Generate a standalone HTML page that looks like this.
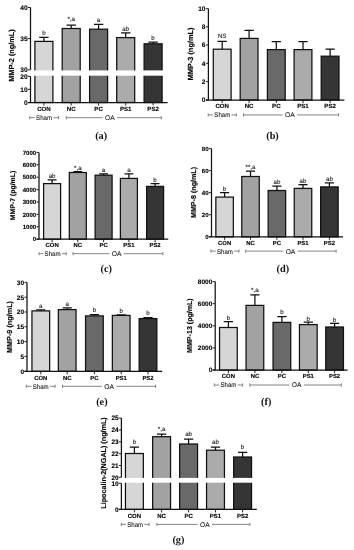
<!DOCTYPE html>
<html><head><meta charset="utf-8"><style>
html,body{margin:0;padding:0;background:#fff;width:354px;height:550px;overflow:hidden}
svg{display:block;filter:blur(0.3px)}
text{font-family:"Liberation Sans",Arial,sans-serif;text-rendering:geometricPrecision}
.tk{font-weight:bold;fill:#000;stroke:#000;stroke-width:0.12px}
.cat{font-weight:bold;fill:#000;stroke:#000;stroke-width:0.12px}
.sig{font-size:6.2px;fill:#222;stroke:#222;stroke-width:0.1px}
.br{font-size:6.7px;fill:#222;stroke:#222;stroke-width:0.1px}
.yl{font-weight:bold;fill:#000;stroke:#000;stroke-width:0.15px}
.cap{font-family:"Liberation Serif",serif;font-size:10.3px;fill:#111;font-weight:bold}
</style></head><body>
<svg width="354" height="550" viewBox="0 0 354 550">
<g class="p">
<rect x="34.9" y="41.4" width="18" height="61.1" fill="#d6d6d6" stroke="#111" stroke-width="1.25"/>
<path d="M43.9 41.4V37.4M39.22 37.4H48.58" stroke="#111" stroke-width="1.25" fill="none"/>
<text x="43.9" y="35.2" class="sig" text-anchor="middle">b</text>
<path d="M43.9 102.5v3" stroke="#111" stroke-width="0.9"/>
<text x="43.9" y="110.8" class="cat" style="font-size:6.1px" text-anchor="middle">CON</text>
<rect x="62.2" y="28.5" width="18" height="74" fill="#a2a2a2" stroke="#111" stroke-width="1.25"/>
<path d="M71.2 28.5V25.2M66.52 25.2H75.88" stroke="#111" stroke-width="1.25" fill="none"/>
<text x="71.2" y="21" class="sig" text-anchor="middle">*,a</text>
<path d="M71.2 102.5v3" stroke="#111" stroke-width="0.9"/>
<text x="71.2" y="110.8" class="cat" style="font-size:6.1px" text-anchor="middle">NC</text>
<rect x="89.6" y="29.2" width="18" height="73.3" fill="#696969" stroke="#111" stroke-width="1.25"/>
<path d="M98.6 29.2V24.4M93.92 24.4H103.28" stroke="#111" stroke-width="1.25" fill="none"/>
<text x="98.6" y="21.8" class="sig" text-anchor="middle">a</text>
<path d="M98.6 102.5v3" stroke="#111" stroke-width="0.9"/>
<text x="98.6" y="110.8" class="cat" style="font-size:6.1px" text-anchor="middle">PC</text>
<rect x="116.7" y="37.6" width="18" height="64.9" fill="#ababab" stroke="#111" stroke-width="1.25"/>
<path d="M125.7 37.6V32.9M121.02 32.9H130.38" stroke="#111" stroke-width="1.25" fill="none"/>
<text x="125.7" y="30.7" class="sig" text-anchor="middle">ab</text>
<path d="M125.7 102.5v3" stroke="#111" stroke-width="0.9"/>
<text x="125.7" y="110.8" class="cat" style="font-size:6.1px" text-anchor="middle">PS1</text>
<rect x="144.1" y="43.8" width="18" height="58.7" fill="#353535" stroke="#111" stroke-width="1.25"/>
<path d="M153.1 43.8V42M148.42 42H157.78" stroke="#111" stroke-width="1.25" fill="none"/>
<text x="153.1" y="39.6" class="sig" text-anchor="middle">b</text>
<path d="M153.1 102.5v3" stroke="#111" stroke-width="0.9"/>
<text x="153.1" y="110.8" class="cat" style="font-size:6.1px" text-anchor="middle">PS2</text>
<rect x="31.3" y="70.4" width="137.1" height="5.3" fill="#fff"/>
<path d="M30.5 7.5V69.8M30.5 76.3V102.5" stroke="#111" stroke-width="1.25" fill="none"/>
<path d="M28 102.5H167.6" stroke="#111" stroke-width="1.25"/>
<path d="M27.9 7.5H30.5" stroke="#111" stroke-width="0.9"/>
<text x="27.6" y="9.88" class="tk" style="font-size:6.6px" text-anchor="end">40</text>
<path d="M27.9 38.6H30.5" stroke="#111" stroke-width="0.9"/>
<text x="27.6" y="40.98" class="tk" style="font-size:6.6px" text-anchor="end">35</text>
<path d="M27.9 69.8H30.5" stroke="#111" stroke-width="0.9"/>
<text x="27.6" y="72.18" class="tk" style="font-size:6.6px" text-anchor="end">30</text>
<path d="M27.9 76.3H30.5" stroke="#111" stroke-width="0.9"/>
<text x="27.6" y="78.68" class="tk" style="font-size:6.6px" text-anchor="end">20</text>
<path d="M27.9 89.3H30.5" stroke="#111" stroke-width="0.9"/>
<text x="27.6" y="91.68" class="tk" style="font-size:6.6px" text-anchor="end">10</text>
<path d="M27.9 102.5H30.5" stroke="#111" stroke-width="0.9"/>
<text x="27.6" y="104.88" class="tk" style="font-size:6.6px" text-anchor="end">0</text>
<path d="M29.7 116.1v3.2M58.5 116.1v3.2M66.3 116.1v3.2M161.3 116.1v3.2" stroke="#666" stroke-width="0.8"/>
<path d="M29.7 117.7H34.9M53.3 117.7H58.5M66.3 117.7H102.6M117 117.7H161.3" stroke="#666" stroke-width="0.8"/>
<text x="44.1" y="120.1" class="br" text-anchor="middle" textLength="16" lengthAdjust="spacingAndGlyphs">Sham</text>
<text x="109.8" y="120.1" class="br" text-anchor="middle">OA</text>
<text x="101.2" y="139.3" class="cap" text-anchor="middle">(<tspan font-weight="bold">a</tspan>)</text>
<text transform="translate(13.94 55.5) rotate(-90)" class="yl" style="font-size:7.33px" text-anchor="middle">MMP-2 (ng/mL)</text>
</g>
<g class="p">
<rect x="213.3" y="49.2" width="17.8" height="50.8" fill="#d6d6d6" stroke="#111" stroke-width="1.25"/>
<path d="M222.2 49.2V41.4M217.57 41.4H226.83" stroke="#111" stroke-width="1.25" fill="none"/>
<text x="222.2" y="37.8" class="sig" text-anchor="middle">NS</text>
<path d="M222.2 100v3" stroke="#111" stroke-width="0.9"/>
<text x="222.2" y="107.8" class="cat" style="font-size:6.1px" text-anchor="middle">CON</text>
<rect x="240.2" y="38.4" width="17.8" height="61.6" fill="#a2a2a2" stroke="#111" stroke-width="1.25"/>
<path d="M249.1 38.4V30.3M244.47 30.3H253.73" stroke="#111" stroke-width="1.25" fill="none"/>
<path d="M249.1 100v3" stroke="#111" stroke-width="0.9"/>
<text x="249.1" y="107.8" class="cat" style="font-size:6.1px" text-anchor="middle">NC</text>
<rect x="267.4" y="49.6" width="17.8" height="50.4" fill="#696969" stroke="#111" stroke-width="1.25"/>
<path d="M276.3 49.6V41.6M271.67 41.6H280.93" stroke="#111" stroke-width="1.25" fill="none"/>
<path d="M276.3 100v3" stroke="#111" stroke-width="0.9"/>
<text x="276.3" y="107.8" class="cat" style="font-size:6.1px" text-anchor="middle">PC</text>
<rect x="294.1" y="49.6" width="17.8" height="50.4" fill="#ababab" stroke="#111" stroke-width="1.25"/>
<path d="M303 49.6V41.6M298.37 41.6H307.63" stroke="#111" stroke-width="1.25" fill="none"/>
<path d="M303 100v3" stroke="#111" stroke-width="0.9"/>
<text x="303" y="107.8" class="cat" style="font-size:6.1px" text-anchor="middle">PS1</text>
<rect x="321.2" y="56.2" width="17.8" height="43.8" fill="#353535" stroke="#111" stroke-width="1.25"/>
<path d="M330.1 56.2V49.1M325.47 49.1H334.73" stroke="#111" stroke-width="1.25" fill="none"/>
<path d="M330.1 100v3" stroke="#111" stroke-width="0.9"/>
<text x="330.1" y="107.8" class="cat" style="font-size:6.1px" text-anchor="middle">PS2</text>
<path d="M208.4 8.7V100" stroke="#111" stroke-width="1.25" fill="none"/>
<path d="M205.9 100H344.4" stroke="#111" stroke-width="1.25"/>
<path d="M205.8 8.7H208.4" stroke="#111" stroke-width="0.9"/>
<text x="205.5" y="11.08" class="tk" style="font-size:6.6px" text-anchor="end">10</text>
<path d="M205.8 26.8H208.4" stroke="#111" stroke-width="0.9"/>
<text x="205.5" y="29.18" class="tk" style="font-size:6.6px" text-anchor="end">8</text>
<path d="M205.8 45H208.4" stroke="#111" stroke-width="0.9"/>
<text x="205.5" y="47.38" class="tk" style="font-size:6.6px" text-anchor="end">6</text>
<path d="M205.8 63.3H208.4" stroke="#111" stroke-width="0.9"/>
<text x="205.5" y="65.68" class="tk" style="font-size:6.6px" text-anchor="end">4</text>
<path d="M205.8 81.7H208.4" stroke="#111" stroke-width="0.9"/>
<text x="205.5" y="84.08" class="tk" style="font-size:6.6px" text-anchor="end">2</text>
<path d="M205.8 100H208.4" stroke="#111" stroke-width="0.9"/>
<text x="205.5" y="102.38" class="tk" style="font-size:6.6px" text-anchor="end">0</text>
<path d="M208.2 113.3v3.2M236.4 113.3v3.2M243.5 113.3v3.2M338.6 113.3v3.2" stroke="#666" stroke-width="0.8"/>
<path d="M208.2 114.9H213.1M231.5 114.9H236.4M243.5 114.9H282.7M297.1 114.9H338.6" stroke="#666" stroke-width="0.8"/>
<text x="222.3" y="117.3" class="br" text-anchor="middle" textLength="16" lengthAdjust="spacingAndGlyphs">Sham</text>
<text x="289.9" y="117.3" class="br" text-anchor="middle">OA</text>
<text x="272.5" y="139.3" class="cap" text-anchor="middle">(<tspan font-weight="bold">b</tspan>)</text>
<text transform="translate(192.87 54) rotate(-90)" class="yl" style="font-size:7.42px" text-anchor="middle">MMP-3 (ng/mL)</text>
</g>
<g class="p">
<rect x="43.6" y="183.6" width="17" height="55.6" fill="#d6d6d6" stroke="#111" stroke-width="1.25"/>
<path d="M52.1 183.6V179.8M47.68 179.8H56.52" stroke="#111" stroke-width="1.25" fill="none"/>
<text x="52.1" y="178.4" class="sig" text-anchor="middle">ab</text>
<path d="M52.1 239.2v3" stroke="#111" stroke-width="0.9"/>
<text x="52.1" y="247.1" class="cat" style="font-size:5.9px" text-anchor="middle">CON</text>
<rect x="69.3" y="172.5" width="17" height="66.7" fill="#a2a2a2" stroke="#111" stroke-width="1.25"/>
<path d="M77.8 172.5V171.7M73.38 171.7H82.22" stroke="#111" stroke-width="1.25" fill="none"/>
<text x="77.8" y="169.5" class="sig" text-anchor="middle">*,a</text>
<path d="M77.8 239.2v3" stroke="#111" stroke-width="0.9"/>
<text x="77.8" y="247.1" class="cat" style="font-size:5.9px" text-anchor="middle">NC</text>
<rect x="95.1" y="175.2" width="17" height="64" fill="#696969" stroke="#111" stroke-width="1.25"/>
<path d="M103.6 175.2V173.8M99.18 173.8H108.02" stroke="#111" stroke-width="1.25" fill="none"/>
<text x="103.6" y="171.9" class="sig" text-anchor="middle">a</text>
<path d="M103.6 239.2v3" stroke="#111" stroke-width="0.9"/>
<text x="103.6" y="247.1" class="cat" style="font-size:5.9px" text-anchor="middle">PC</text>
<rect x="120.4" y="178.4" width="17" height="60.8" fill="#ababab" stroke="#111" stroke-width="1.25"/>
<path d="M128.9 178.4V173.8M124.48 173.8H133.32" stroke="#111" stroke-width="1.25" fill="none"/>
<text x="128.9" y="171.9" class="sig" text-anchor="middle">a</text>
<path d="M128.9 239.2v3" stroke="#111" stroke-width="0.9"/>
<text x="128.9" y="247.1" class="cat" style="font-size:5.9px" text-anchor="middle">PS1</text>
<rect x="146.6" y="186.4" width="17" height="52.8" fill="#353535" stroke="#111" stroke-width="1.25"/>
<path d="M155.1 186.4V183.5M150.68 183.5H159.52" stroke="#111" stroke-width="1.25" fill="none"/>
<text x="155.1" y="181.9" class="sig" text-anchor="middle">b</text>
<path d="M155.1 239.2v3" stroke="#111" stroke-width="0.9"/>
<text x="155.1" y="247.1" class="cat" style="font-size:5.9px" text-anchor="middle">PS2</text>
<path d="M39 152.4V239.2" stroke="#111" stroke-width="1.25" fill="none"/>
<path d="M36.5 239.2H168.2" stroke="#111" stroke-width="1.25"/>
<path d="M36.4 152.4H39" stroke="#111" stroke-width="0.9"/>
<text x="36.1" y="154.56" class="tk" style="font-size:6.0px" text-anchor="end">7000</text>
<path d="M36.4 164.8H39" stroke="#111" stroke-width="0.9"/>
<text x="36.1" y="166.96" class="tk" style="font-size:6.0px" text-anchor="end">6000</text>
<path d="M36.4 177.2H39" stroke="#111" stroke-width="0.9"/>
<text x="36.1" y="179.36" class="tk" style="font-size:6.0px" text-anchor="end">5000</text>
<path d="M36.4 189.6H39" stroke="#111" stroke-width="0.9"/>
<text x="36.1" y="191.76" class="tk" style="font-size:6.0px" text-anchor="end">4000</text>
<path d="M36.4 202H39" stroke="#111" stroke-width="0.9"/>
<text x="36.1" y="204.16" class="tk" style="font-size:6.0px" text-anchor="end">3000</text>
<path d="M36.4 214.4H39" stroke="#111" stroke-width="0.9"/>
<text x="36.1" y="216.56" class="tk" style="font-size:6.0px" text-anchor="end">2000</text>
<path d="M36.4 226.8H39" stroke="#111" stroke-width="0.9"/>
<text x="36.1" y="228.96" class="tk" style="font-size:6.0px" text-anchor="end">1000</text>
<path d="M36.4 239.2H39" stroke="#111" stroke-width="0.9"/>
<text x="36.1" y="241.36" class="tk" style="font-size:6.0px" text-anchor="end">0</text>
<path d="M39 252.1v3.2M66.2 252.1v3.2M73 252.1v3.2M162.8 252.1v3.2" stroke="#666" stroke-width="0.8"/>
<path d="M39 253.7H43.4M61.8 253.7H66.2M73 253.7H109.5M123.9 253.7H162.8" stroke="#666" stroke-width="0.8"/>
<text x="52.6" y="256.1" class="br" text-anchor="middle" textLength="16" lengthAdjust="spacingAndGlyphs">Sham</text>
<text x="116.7" y="256.1" class="br" text-anchor="middle">OA</text>
<text x="106.3" y="272" class="cap" text-anchor="middle">(<tspan font-weight="bold">c</tspan>)</text>
<text transform="translate(14.78 195.5) rotate(-90)" class="yl" style="font-size:6.9px" text-anchor="middle">MMP-7 (pg/mL)</text>
</g>
<g class="p">
<rect x="215.85" y="197.1" width="17.5" height="39.7" fill="#d6d6d6" stroke="#111" stroke-width="1.25"/>
<path d="M224.6 197.1V192.7M220.05 192.7H229.15" stroke="#111" stroke-width="1.25" fill="none"/>
<text x="224.6" y="191.1" class="sig" text-anchor="middle">b</text>
<path d="M224.6 236.8v3" stroke="#111" stroke-width="0.9"/>
<text x="224.6" y="244.6" class="cat" style="font-size:5.9px" text-anchor="middle">CON</text>
<rect x="241.75" y="176.5" width="17.5" height="60.3" fill="#a2a2a2" stroke="#111" stroke-width="1.25"/>
<path d="M250.5 176.5V171.2M245.95 171.2H255.05" stroke="#111" stroke-width="1.25" fill="none"/>
<text x="250.5" y="168.8" class="sig" text-anchor="middle">**,a</text>
<path d="M250.5 236.8v3" stroke="#111" stroke-width="0.9"/>
<text x="250.5" y="244.6" class="cat" style="font-size:5.9px" text-anchor="middle">NC</text>
<rect x="268.15" y="190.5" width="17.5" height="46.3" fill="#696969" stroke="#111" stroke-width="1.25"/>
<path d="M276.9 190.5V186M272.35 186H281.45" stroke="#111" stroke-width="1.25" fill="none"/>
<text x="276.9" y="184.1" class="sig" text-anchor="middle">ab</text>
<path d="M276.9 236.8v3" stroke="#111" stroke-width="0.9"/>
<text x="276.9" y="244.6" class="cat" style="font-size:5.9px" text-anchor="middle">PC</text>
<rect x="294.25" y="188.4" width="17.5" height="48.4" fill="#ababab" stroke="#111" stroke-width="1.25"/>
<path d="M303 188.4V184.5M298.45 184.5H307.55" stroke="#111" stroke-width="1.25" fill="none"/>
<text x="303" y="182.6" class="sig" text-anchor="middle">ab</text>
<path d="M303 236.8v3" stroke="#111" stroke-width="0.9"/>
<text x="303" y="244.6" class="cat" style="font-size:5.9px" text-anchor="middle">PS1</text>
<rect x="320.65" y="186.9" width="17.5" height="49.9" fill="#353535" stroke="#111" stroke-width="1.25"/>
<path d="M329.4 186.9V182.9M324.85 182.9H333.95" stroke="#111" stroke-width="1.25" fill="none"/>
<text x="329.4" y="181" class="sig" text-anchor="middle">ab</text>
<path d="M329.4 236.8v3" stroke="#111" stroke-width="0.9"/>
<text x="329.4" y="244.6" class="cat" style="font-size:5.9px" text-anchor="middle">PS2</text>
<path d="M211.5 148.6V236.8" stroke="#111" stroke-width="1.25" fill="none"/>
<path d="M209 236.8H343" stroke="#111" stroke-width="1.25"/>
<path d="M208.9 148.6H211.5" stroke="#111" stroke-width="0.9"/>
<text x="208.6" y="150.8" class="tk" style="font-size:6.1px" text-anchor="end">80</text>
<path d="M208.9 170.6H211.5" stroke="#111" stroke-width="0.9"/>
<text x="208.6" y="172.8" class="tk" style="font-size:6.1px" text-anchor="end">60</text>
<path d="M208.9 192.6H211.5" stroke="#111" stroke-width="0.9"/>
<text x="208.6" y="194.8" class="tk" style="font-size:6.1px" text-anchor="end">40</text>
<path d="M208.9 214.7H211.5" stroke="#111" stroke-width="0.9"/>
<text x="208.6" y="216.9" class="tk" style="font-size:6.1px" text-anchor="end">20</text>
<path d="M208.9 236.7H211.5" stroke="#111" stroke-width="0.9"/>
<text x="208.6" y="238.9" class="tk" style="font-size:6.1px" text-anchor="end">0</text>
<path d="M210.9 249.5v3.2M239 249.5v3.2M245.7 249.5v3.2M336.1 249.5v3.2" stroke="#666" stroke-width="0.8"/>
<path d="M210.9 251.1H215.75M234.15 251.1H239M245.7 251.1H283.3M297.7 251.1H336.1" stroke="#666" stroke-width="0.8"/>
<text x="224.95" y="253.5" class="br" text-anchor="middle" textLength="16" lengthAdjust="spacingAndGlyphs">Sham</text>
<text x="290.5" y="253.5" class="br" text-anchor="middle">OA</text>
<text x="282.9" y="272" class="cap" text-anchor="middle">(<tspan font-weight="bold">d</tspan>)</text>
<text transform="translate(195.77 192.5) rotate(-90)" class="yl" style="font-size:7.13px" text-anchor="middle">MMP-8 (ng/mL)</text>
</g>
<g class="p">
<rect x="31.95" y="310.9" width="17.7" height="60.4" fill="#d6d6d6" stroke="#111" stroke-width="1.25"/>
<path d="M40.8 310.9V309.9M36.2 309.9H45.4" stroke="#111" stroke-width="1.25" fill="none"/>
<text x="40.8" y="307.5" class="sig" text-anchor="middle">a</text>
<path d="M40.8 371.3v3" stroke="#111" stroke-width="0.9"/>
<text x="40.8" y="380.2" class="cat" style="font-size:5.9px" text-anchor="middle">CON</text>
<rect x="58.35" y="309.6" width="17.7" height="61.7" fill="#a2a2a2" stroke="#111" stroke-width="1.25"/>
<path d="M67.2 309.6V307.9M62.6 307.9H71.8" stroke="#111" stroke-width="1.25" fill="none"/>
<text x="67.2" y="305.5" class="sig" text-anchor="middle">a</text>
<path d="M67.2 371.3v3" stroke="#111" stroke-width="0.9"/>
<text x="67.2" y="380.2" class="cat" style="font-size:5.9px" text-anchor="middle">NC</text>
<rect x="85.55" y="315.9" width="17.7" height="55.4" fill="#696969" stroke="#111" stroke-width="1.25"/>
<path d="M94.4 315.9V314.5M89.8 314.5H99" stroke="#111" stroke-width="1.25" fill="none"/>
<text x="94.4" y="312.1" class="sig" text-anchor="middle">b</text>
<path d="M94.4 371.3v3" stroke="#111" stroke-width="0.9"/>
<text x="94.4" y="380.2" class="cat" style="font-size:5.9px" text-anchor="middle">PC</text>
<rect x="112.35" y="315.4" width="17.7" height="55.9" fill="#ababab" stroke="#111" stroke-width="1.25"/>
<path d="M121.2 315.4V314.9M116.6 314.9H125.8" stroke="#111" stroke-width="1.25" fill="none"/>
<text x="121.2" y="312.5" class="sig" text-anchor="middle">b</text>
<path d="M121.2 371.3v3" stroke="#111" stroke-width="0.9"/>
<text x="121.2" y="380.2" class="cat" style="font-size:5.9px" text-anchor="middle">PS1</text>
<rect x="139.15" y="318.6" width="17.7" height="52.7" fill="#353535" stroke="#111" stroke-width="1.25"/>
<path d="M148 318.6V317.5M143.4 317.5H152.6" stroke="#111" stroke-width="1.25" fill="none"/>
<text x="148" y="315.1" class="sig" text-anchor="middle">b</text>
<path d="M148 371.3v3" stroke="#111" stroke-width="0.9"/>
<text x="148" y="380.2" class="cat" style="font-size:5.9px" text-anchor="middle">PS2</text>
<path d="M27 282.4V371.3" stroke="#111" stroke-width="1.25" fill="none"/>
<path d="M24.5 371.3H162.2" stroke="#111" stroke-width="1.25"/>
<path d="M24.4 282.4H27" stroke="#111" stroke-width="0.9"/>
<text x="24.1" y="284.74" class="tk" style="font-size:6.5px" text-anchor="end">30</text>
<path d="M24.4 297.2H27" stroke="#111" stroke-width="0.9"/>
<text x="24.1" y="299.54" class="tk" style="font-size:6.5px" text-anchor="end">25</text>
<path d="M24.4 312H27" stroke="#111" stroke-width="0.9"/>
<text x="24.1" y="314.34" class="tk" style="font-size:6.5px" text-anchor="end">20</text>
<path d="M24.4 326.8H27" stroke="#111" stroke-width="0.9"/>
<text x="24.1" y="329.14" class="tk" style="font-size:6.5px" text-anchor="end">15</text>
<path d="M24.4 341.6H27" stroke="#111" stroke-width="0.9"/>
<text x="24.1" y="343.94" class="tk" style="font-size:6.5px" text-anchor="end">10</text>
<path d="M24.4 356.4H27" stroke="#111" stroke-width="0.9"/>
<text x="24.1" y="358.74" class="tk" style="font-size:6.5px" text-anchor="end">5</text>
<path d="M24.4 371.2H27" stroke="#111" stroke-width="0.9"/>
<text x="24.1" y="373.54" class="tk" style="font-size:6.5px" text-anchor="end">0</text>
<path d="M26.3 384.7v3.2M55.1 384.7v3.2M62.5 384.7v3.2M155.6 384.7v3.2" stroke="#666" stroke-width="0.8"/>
<path d="M26.3 386.3H31.5M49.9 386.3H55.1M62.5 386.3H102M116.4 386.3H155.6" stroke="#666" stroke-width="0.8"/>
<text x="40.7" y="388.7" class="br" text-anchor="middle" textLength="16" lengthAdjust="spacingAndGlyphs">Sham</text>
<text x="109.2" y="388.7" class="br" text-anchor="middle">OA</text>
<text x="101.9" y="404.6" class="cap" text-anchor="middle">(<tspan font-weight="bold">e</tspan>)</text>
<text transform="translate(12.31 327) rotate(-90)" class="yl" style="font-size:7.25px" text-anchor="middle">MMP-9 (ng/mL)</text>
</g>
<g class="p">
<rect x="219.55" y="327.5" width="17.7" height="42.6" fill="#d6d6d6" stroke="#111" stroke-width="1.25"/>
<path d="M228.4 327.5V321.5M223.8 321.5H233" stroke="#111" stroke-width="1.25" fill="none"/>
<text x="228.4" y="320.1" class="sig" text-anchor="middle">b</text>
<path d="M228.4 370.1v3" stroke="#111" stroke-width="0.9"/>
<text x="228.4" y="378.4" class="cat" style="font-size:5.9px" text-anchor="middle">CON</text>
<rect x="246.05" y="305.4" width="17.7" height="64.7" fill="#a2a2a2" stroke="#111" stroke-width="1.25"/>
<path d="M254.9 305.4V294.8M250.3 294.8H259.5" stroke="#111" stroke-width="1.25" fill="none"/>
<text x="254.9" y="292.2" class="sig" text-anchor="middle">*,a</text>
<path d="M254.9 370.1v3" stroke="#111" stroke-width="0.9"/>
<text x="254.9" y="378.4" class="cat" style="font-size:5.9px" text-anchor="middle">NC</text>
<rect x="273.05" y="322.4" width="17.7" height="47.7" fill="#696969" stroke="#111" stroke-width="1.25"/>
<path d="M281.9 322.4V316.7M277.3 316.7H286.5" stroke="#111" stroke-width="1.25" fill="none"/>
<text x="281.9" y="314.1" class="sig" text-anchor="middle">b</text>
<path d="M281.9 370.1v3" stroke="#111" stroke-width="0.9"/>
<text x="281.9" y="378.4" class="cat" style="font-size:5.9px" text-anchor="middle">PC</text>
<rect x="299.45" y="324.6" width="17.7" height="45.5" fill="#ababab" stroke="#111" stroke-width="1.25"/>
<path d="M308.3 324.6V322M303.7 322H312.9" stroke="#111" stroke-width="1.25" fill="none"/>
<text x="308.3" y="320.8" class="sig" text-anchor="middle">b</text>
<path d="M308.3 370.1v3" stroke="#111" stroke-width="0.9"/>
<text x="308.3" y="378.4" class="cat" style="font-size:5.9px" text-anchor="middle">PS1</text>
<rect x="325.75" y="327" width="17.7" height="43.1" fill="#353535" stroke="#111" stroke-width="1.25"/>
<path d="M334.6 327V323.3M330 323.3H339.2" stroke="#111" stroke-width="1.25" fill="none"/>
<text x="334.6" y="321.5" class="sig" text-anchor="middle">b</text>
<path d="M334.6 370.1v3" stroke="#111" stroke-width="0.9"/>
<text x="334.6" y="378.4" class="cat" style="font-size:5.9px" text-anchor="middle">PS2</text>
<path d="M215.2 281.6V370.1" stroke="#111" stroke-width="1.25" fill="none"/>
<path d="M212.7 370.1H347.6" stroke="#111" stroke-width="1.25"/>
<path d="M212.6 281.6H215.2" stroke="#111" stroke-width="0.9"/>
<text x="212.3" y="283.94" class="tk" style="font-size:6.5px" text-anchor="end">8000</text>
<path d="M212.6 303.7H215.2" stroke="#111" stroke-width="0.9"/>
<text x="212.3" y="306.04" class="tk" style="font-size:6.5px" text-anchor="end">6000</text>
<path d="M212.6 325.8H215.2" stroke="#111" stroke-width="0.9"/>
<text x="212.3" y="328.14" class="tk" style="font-size:6.5px" text-anchor="end">4000</text>
<path d="M212.6 347.9H215.2" stroke="#111" stroke-width="0.9"/>
<text x="212.3" y="350.24" class="tk" style="font-size:6.5px" text-anchor="end">2000</text>
<path d="M212.6 370H215.2" stroke="#111" stroke-width="0.9"/>
<text x="212.3" y="372.34" class="tk" style="font-size:6.5px" text-anchor="end">0</text>
<path d="M214.3 383.4v3.2M242.6 383.4v3.2M249.9 383.4v3.2M341.3 383.4v3.2" stroke="#666" stroke-width="0.8"/>
<path d="M214.3 385H219.25M237.65 385H242.6M249.9 385H289.4M303.8 385H341.3" stroke="#666" stroke-width="0.8"/>
<text x="228.45" y="387.4" class="br" text-anchor="middle" textLength="16" lengthAdjust="spacingAndGlyphs">Sham</text>
<text x="296.6" y="387.4" class="br" text-anchor="middle">OA</text>
<text x="266.2" y="405.1" class="cap" text-anchor="middle">(<tspan font-weight="bold">f</tspan>)</text>
<text transform="translate(191.85 325.6) rotate(-90)" class="yl" style="font-size:7.08px" text-anchor="middle">MMP-13 (pg/mL)</text>
</g>
<g class="p">
<rect x="125.45" y="453.5" width="17.9" height="55.9" fill="#d6d6d6" stroke="#111" stroke-width="1.25"/>
<path d="M134.4 453.5V447.1M129.75 447.1H139.05" stroke="#111" stroke-width="1.25" fill="none"/>
<text x="134.4" y="444.2" class="sig" text-anchor="middle">b</text>
<path d="M134.4 509.4v3" stroke="#111" stroke-width="0.9"/>
<text x="134.4" y="518.4" class="cat" style="font-size:6.0px" text-anchor="middle">CON</text>
<rect x="152.65" y="436.7" width="17.9" height="72.7" fill="#a2a2a2" stroke="#111" stroke-width="1.25"/>
<path d="M161.6 436.7V434M156.95 434H166.25" stroke="#111" stroke-width="1.25" fill="none"/>
<text x="161.6" y="430.8" class="sig" text-anchor="middle">*,a</text>
<path d="M161.6 509.4v3" stroke="#111" stroke-width="0.9"/>
<text x="161.6" y="518.4" class="cat" style="font-size:6.0px" text-anchor="middle">NC</text>
<rect x="179.65" y="444" width="17.9" height="65.4" fill="#696969" stroke="#111" stroke-width="1.25"/>
<path d="M188.6 444V439M183.95 439H193.25" stroke="#111" stroke-width="1.25" fill="none"/>
<text x="188.6" y="436" class="sig" text-anchor="middle">ab</text>
<path d="M188.6 509.4v3" stroke="#111" stroke-width="0.9"/>
<text x="188.6" y="518.4" class="cat" style="font-size:6.0px" text-anchor="middle">PC</text>
<rect x="206.55" y="450.2" width="17.9" height="59.2" fill="#ababab" stroke="#111" stroke-width="1.25"/>
<path d="M215.5 450.2V447.2M210.85 447.2H220.15" stroke="#111" stroke-width="1.25" fill="none"/>
<text x="215.5" y="444.3" class="sig" text-anchor="middle">ab</text>
<path d="M215.5 509.4v3" stroke="#111" stroke-width="0.9"/>
<text x="215.5" y="518.4" class="cat" style="font-size:6.0px" text-anchor="middle">PS1</text>
<rect x="233.65" y="457" width="17.9" height="52.4" fill="#353535" stroke="#111" stroke-width="1.25"/>
<path d="M242.6 457V452.3M237.95 452.3H247.25" stroke="#111" stroke-width="1.25" fill="none"/>
<text x="242.6" y="449.4" class="sig" text-anchor="middle">b</text>
<path d="M242.6 509.4v3" stroke="#111" stroke-width="0.9"/>
<text x="242.6" y="518.4" class="cat" style="font-size:6.0px" text-anchor="middle">PS2</text>
<rect x="122.2" y="477.9" width="135.4" height="4.8" fill="#fff"/>
<path d="M121.4 418.1V477.3M121.4 483.3V509.4" stroke="#111" stroke-width="1.25" fill="none"/>
<path d="M118.9 509.4H256.8" stroke="#111" stroke-width="1.25"/>
<path d="M118.8 418.1H121.4" stroke="#111" stroke-width="0.9"/>
<text x="118.5" y="420.4" class="tk" style="font-size:6.4px" text-anchor="end">25</text>
<path d="M118.8 429.9H121.4" stroke="#111" stroke-width="0.9"/>
<text x="118.5" y="432.2" class="tk" style="font-size:6.4px" text-anchor="end">24</text>
<path d="M118.8 441.8H121.4" stroke="#111" stroke-width="0.9"/>
<text x="118.5" y="444.1" class="tk" style="font-size:6.4px" text-anchor="end">23</text>
<path d="M118.8 453.7H121.4" stroke="#111" stroke-width="0.9"/>
<text x="118.5" y="456" class="tk" style="font-size:6.4px" text-anchor="end">22</text>
<path d="M118.8 465.5H121.4" stroke="#111" stroke-width="0.9"/>
<text x="118.5" y="467.8" class="tk" style="font-size:6.4px" text-anchor="end">21</text>
<path d="M118.8 477.3H121.4" stroke="#111" stroke-width="0.9"/>
<text x="118.5" y="479.6" class="tk" style="font-size:6.4px" text-anchor="end">20</text>
<path d="M118.8 483.3H121.4" stroke="#111" stroke-width="0.9"/>
<text x="118.5" y="485.6" class="tk" style="font-size:6.4px" text-anchor="end">10</text>
<path d="M118.8 509.4H121.4" stroke="#111" stroke-width="0.9"/>
<text x="118.5" y="511.7" class="tk" style="font-size:6.4px" text-anchor="end">0</text>
<path d="M121.3 522.8v3.2M149 522.8v3.2M156.9 522.8v3.2M249.9 522.8v3.2" stroke="#666" stroke-width="0.8"/>
<path d="M121.3 524.4H125.95M144.35 524.4H149M156.9 524.4H197.6M212 524.4H249.9" stroke="#666" stroke-width="0.8"/>
<text x="135.15" y="526.8" class="br" text-anchor="middle" textLength="16" lengthAdjust="spacingAndGlyphs">Sham</text>
<text x="204.8" y="526.8" class="br" text-anchor="middle">OA</text>
<text x="178.4" y="542.9" class="cap" text-anchor="middle">(<tspan font-weight="bold">g</tspan>)</text>
<text transform="translate(105.99 463) rotate(-90)" class="yl" style="font-size:7.2px" text-anchor="middle">Lipocalin-2(NGAL) (ng/mL)</text>
</g>
</svg>
</body></html>
